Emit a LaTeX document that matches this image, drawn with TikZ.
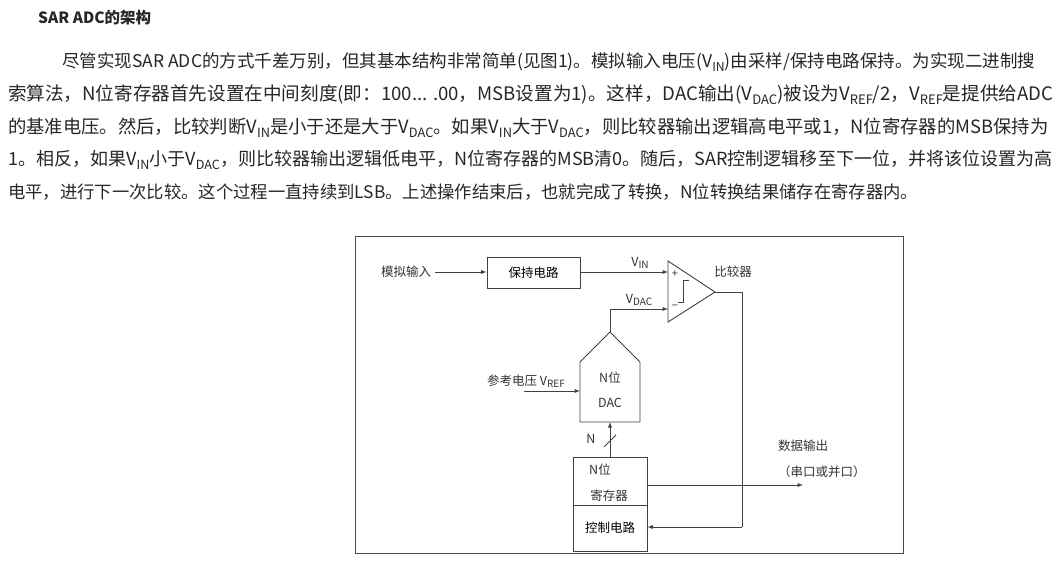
\documentclass[tikz,border=0pt]{standalone}
\usepackage{fontspec}
\usepackage{graphicx}
\setmainfont{Noto Sans CJK SC}
\newcommand{\sbs}[1]{\raisebox{-0.35ex}{\fontsize{10}{10}\selectfont #1}}
\newcommand{\fitw}[2]{\resizebox{#1pt}{!}{#2}}
\begin{document}
\begin{tikzpicture}[x=1pt,y=-1pt,
  para/.style={anchor=base west,inner sep=0,font=\fontsize{14.3}{16}\selectfont,text=black!85},
  lab/.style={inner sep=0,font=\fontsize{12.5}{14}\selectfont,text=black!80},
  blk/.style={draw=black!75,line width=0.9pt},
  ln/.style={draw=black!75,line width=0.9pt},
  arr/.style={ln,-latex}]
\useasboundingbox (0,0) rectangle (1063,569);
\node[para,font=\bfseries\fontsize{15.5}{17}\selectfont] (title) at (38,24) {SAR ADC的架构};
\node[para] (l1) at (62,68) {\fitw{973}{尽管实现SAR ADC的方式千差万别，但其基本结构非常简单(见图1)。模拟输入电压(V\sbs{IN})由采样/保持电路保持。为实现二进制搜}};
\node[para] (l2) at (8,101) {\fitw{1045}{索算法，N位寄存器首先设置在中间刻度(即：100... .00，MSB设置为1)。这样，DAC输出(V\sbs{DAC})被设为V\sbs{REF}/2，V\sbs{REF}是提供给ADC}};
\node[para] (l3) at (8,134) {\fitw{1040}{的基准电压。然后，比较判断V\sbs{IN}是小于还是大于V\sbs{DAC}。如果V\sbs{IN}大于V\sbs{DAC}，则比较器输出逻辑高电平或1，N位寄存器的MSB保持为}};
\node[para] (l4) at (8,166) {\fitw{1044}{1。相反，如果V\sbs{IN}小于V\sbs{DAC}，则比较器输出逻辑低电平，N位寄存器的MSB清0。随后，SAR控制逻辑移至下一位，并将该位设置为高}};
\node[para] (l5) at (8,199) {\fitw{910}{电平，进行下一次比较。这个过程一直持续到LSB。上述操作结束后，也就完成了转换，N位转换结果储存在寄存器内。}};
% frame
\draw[black!70,line width=0.9pt] (355,236) rectangle (903,553);
% nodes
\node[lab] (ain) at (406,272) {模拟输入};
\node[blk,minimum width=93,minimum height=31,inner sep=0,font=\fontsize{12.5}{14}\selectfont] (hold) at (533.5,272.5) {保持电路};
\draw[blk] (668,261) -- (715,292) -- (668,322) -- cycle;
\coordinate (cp) at (668,272);
\coordinate (cm) at (668,309);
\coordinate (ctip) at (715,292);
\draw[ln,line width=0.8pt] (678,302) -- (683,302) -- (683,280) -- (689,280);
\node[lab,font=\fontsize{11}{11}\selectfont] (plus) at (675,274) {+};
\node[lab,font=\fontsize{11}{11}\selectfont] (minus) at (675,307) {−};
\node[lab] (cmpl) at (733,272) {比较器};
\draw[blk] (580,422) -- (580,362) -- (610,332) -- (640,362) -- (640,422) -- cycle;
\coordinate (dactop) at (610,332);
\coordinate (dacleft) at (580,391);
\coordinate (dacbot) at (610,422);
\node[lab] (dac1) at (610,378) {N位};
\node[lab] (dac2) at (610,403) {DAC};
\node[lab,anchor=east] (ref) at (565,381) {参考电压 V\sbs{REF}};
\coordinate (refs) at (524,391);
\node[blk,minimum width=74,minimum height=48,inner sep=0] (reg) at (610,481) {};
\node[blk,minimum width=74,minimum height=46,inner sep=0,font=\fontsize{12.5}{14}\selectfont] (ctl) at (610,528) {控制电路};
\node[lab] (reg1) at (600,470) {N位};
\node[lab] (reg2) at (609,496) {寄存器};
\node[lab] (nlab) at (591,439) {N};
\node[lab,anchor=west] (dout1) at (778,446) {数据输出};
\node[lab,anchor=west] (dout2) at (778,472) {（串口或并口）};
\coordinate (doend) at (803,485);
\coordinate (fb1) at (742,292);
\coordinate (fb2) at (742,527);
% connectors
\draw[arr] (ain.east) ++(4,0) -- (hold.west |- 272,272);
\draw[arr] (hold.east |- cp) -- node[lab,above,pos=0.68,yshift=3] (vin) {V\sbs{IN}} (cp);
\draw[arr] (dactop) -- (610,309) -- node[lab,above,pos=0.5,yshift=3] (vdac) {V\sbs{DAC}} (cm);
\draw[arr] (refs) -- (dacleft);
\draw[arr] (reg.north) -- (dacbot);
\draw[ln,line width=0.8pt] (604,447) -- (616,435);
\draw[arr] (reg.east |- doend) -- (doend);
\draw[ln] (ctip) -- (fb1) -- (fb2);
\draw[arr] (fb2) -- (ctl.east |- fb2);
\end{tikzpicture}
\end{document}
